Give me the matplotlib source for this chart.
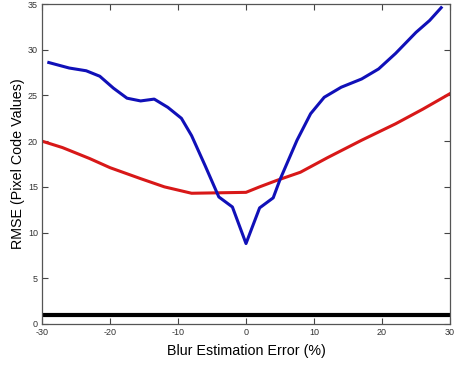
import matplotlib
matplotlib.use("Agg")
import matplotlib.pyplot as plt

# blur estimation error (%) and RMSE values
blue_x = [-29, -26, -23.5, -21.5, -19.5, -17.5, -15.5, -13.5, -11.5, -9.5,
          -8, -6, -4, -2, 0, 2, 4, 5, 7.5, 9.5, 11.5, 14, 17, 19.5, 22, 25, 27, 28.7]
blue_y = [28.6, 28.0, 27.7, 27.1, 25.8, 24.7, 24.4, 24.6, 23.7, 22.5,
          20.6, 17.3, 13.9, 12.8, 8.8, 12.7, 13.8, 15.8, 20.1, 23.0, 24.8, 25.9, 26.8, 27.9, 29.6, 31.9, 33.2, 34.6]

red_x = [-30, -27, -23, -20, -15.5, -12, -8, 0, 2, 4.5, 8, 12, 17, 22, 26, 30]
red_y = [20.0, 19.3, 18.1, 17.1, 15.9, 15.0, 14.3, 14.4, 15.0, 15.7, 16.6, 18.2, 20.1, 21.9, 23.5, 25.2]

black_x = [-30, 30]
black_y = [1.0, 1.0]

xticks = [-30, -20, -10, 0, 10, 20, 30]
yticks = [0, 5, 10, 15, 20, 25, 30, 35]

plt.rcParams["font.family"] = ["Liberation Sans", "DejaVu Sans"]
plt.rcParams["axes.unicode_minus"] = False

fig = plt.figure(figsize=(4.74, 3.80), dpi=100)
ax = fig.add_axes([0.0886, 0.1474, 0.8608, 0.842])

ax.plot(black_x, black_y, color="black", lw=3.0, solid_capstyle="butt")
ax.plot(red_x, red_y, color="#d81818", lw=2.2)
ax.plot(blue_x, blue_y, color="#1010b8", lw=2.2)

ax.set_xlim(-30, 30)
ax.set_ylim(0, 35)
ax.set_xticks(xticks)
ax.set_yticks(yticks)
ax.tick_params(direction="in", top=True, right=True, length=4, width=0.8,
               labelsize=6.5, colors="#444444", labelcolor="#333333", pad=3)
for s in ax.spines.values():
    s.set_color("#555555")
    s.set_linewidth(0.9)

ax.set_xlabel("Blur Estimation Error (%)", fontsize=10.3, labelpad=5)
ax.set_ylabel("RMSE (Pixel Code Values)", fontsize=10.3, labelpad=2)

fig.savefig("out.png", dpi=100)
